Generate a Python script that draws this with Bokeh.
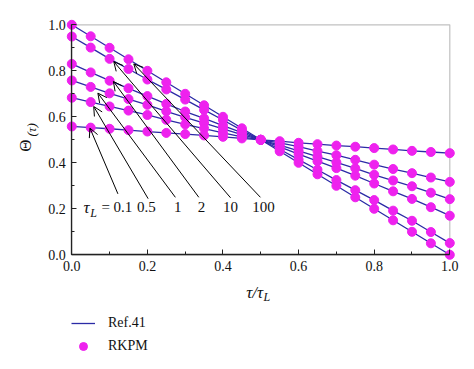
import numpy as np
from bokeh.plotting import figure
from bokeh.models import (Range1d, SingleIntervalTicker, PrintfTickFormatter, Label, LinearAxis,
                          Arrow, OpenHead, ColumnDataSource, Legend, LegendItem, BoxAnnotation)
from bokeh.embed import file_html
from bokeh.resources import INLINE

# ---- data -------------------------------------------------------------
x_vals = [0.0, 0.05, 0.1, 0.15, 0.2, 0.25, 0.3, 0.35, 0.4, 0.45, 0.5,
          0.55, 0.6, 0.65, 0.7, 0.75, 0.8, 0.85, 0.9, 0.95, 1.0]

tauL_labels = ["100", "10", "2", "1", "0.5", "0.1"]

theta_100 = [1.000, 0.950, 0.900, 0.850, 0.800, 0.750, 0.700, 0.650, 0.600, 0.550, 0.500,
             0.450, 0.400, 0.350, 0.300, 0.250, 0.200, 0.150, 0.100, 0.050, 0.000]
theta_10 = [0.949, 0.901, 0.852, 0.808, 0.762, 0.719, 0.675, 0.630, 0.586, 0.541, 0.500,
            0.459, 0.414, 0.370, 0.325, 0.281, 0.238, 0.192, 0.148, 0.099, 0.051]
theta_2 = [0.830, 0.793, 0.757, 0.724, 0.690, 0.656, 0.623, 0.593, 0.562, 0.531, 0.500,
           0.469, 0.438, 0.407, 0.377, 0.344, 0.310, 0.276, 0.243, 0.207, 0.170]
theta_1 = [0.758, 0.730, 0.702, 0.677, 0.652, 0.624, 0.598, 0.573, 0.548, 0.523, 0.500,
           0.477, 0.452, 0.427, 0.402, 0.376, 0.348, 0.323, 0.298, 0.270, 0.242]
theta_05 = [0.683, 0.664, 0.645, 0.627, 0.608, 0.587, 0.567, 0.549, 0.530, 0.513, 0.500,
            0.487, 0.470, 0.451, 0.433, 0.413, 0.392, 0.373, 0.355, 0.336, 0.317]
theta_01 = [0.558, 0.553, 0.548, 0.542, 0.536, 0.530, 0.525, 0.519, 0.513, 0.506, 0.500,
            0.494, 0.487, 0.481, 0.475, 0.470, 0.464, 0.458, 0.452, 0.447, 0.442]

series = [theta_100, theta_10, theta_2, theta_1, theta_05, theta_01]

# annotation arrows (label end -> curve)
arrow_x0 = [0.499, 0.420, 0.336, 0.274, 0.202, 0.122]
arrow_y0 = [0.250, 0.248, 0.250, 0.250, 0.244, 0.265]
arrow_x1 = [0.164, 0.111, 0.110, 0.069, 0.058, 0.048]
arrow_y1 = [0.830, 0.840, 0.754, 0.703, 0.645, 0.551]
label_x = [0.507, 0.420, 0.343, 0.280, 0.197, 0.135]
label_y = [0.206] * 6

LINE = "#2b2ba6"
MARK = "#ee22ee"
FONT = "'Liberation Serif', serif"
TXT = "#111111"

# frame covers the whole canvas; axes are pinned at data 0
p = figure(frame_width=466, frame_height=361, min_border=0,
           x_range=Range1d(-0.1886, 1.0442), y_range=Range1d(-0.4639, 1.1057),
           x_axis_location=None, y_axis_location=None,
           output_backend="svg", toolbar_location=None)

p.xgrid.visible = False
p.ygrid.visible = False
p.outline_line_color = None
p.background_fill_color = "white"
p.border_fill_color = "white"

xaxis = LinearAxis(fixed_location=0, bounds=(0, 1))
yaxis = LinearAxis(fixed_location=0, bounds=(0, 1))
p.add_layout(xaxis, "below")
p.add_layout(yaxis, "left")

for ax in (xaxis, yaxis):
    ax.ticker = SingleIntervalTicker(interval=0.2, num_minor_ticks=2)
    ax.formatter = PrintfTickFormatter(format="%.1f")
    ax.major_tick_in = 5
    ax.major_tick_out = 0
    ax.minor_tick_in = 3
    ax.minor_tick_out = 0
    ax.axis_line_width = 1.3
    ax.axis_line_color = "#222222"
    ax.major_tick_line_color = "#222222"
    ax.minor_tick_line_color = "#222222"
    ax.major_label_text_font = FONT
    ax.major_label_text_font_size = "14px"
    ax.major_label_text_color = TXT
    ax.major_label_standoff = 6

p.add_layout(BoxAnnotation(left=0, right=1, bottom=0, top=1, fill_alpha=0,
                           line_color="#333333", line_width=1.2, level="underlay"))

line_renderers = []
mark_renderers = []
for ys in series:
    src = ColumnDataSource(dict(x=x_vals, y=ys))
    lr = p.line("x", "y", source=src, line_color=LINE, line_width=1.3)
    line_renderers.append(lr)
for ys in series:
    src = ColumnDataSource(dict(x=x_vals, y=ys))
    mr = p.scatter("x", "y", source=src, size=9, fill_color=MARK, line_color=MARK)
    mark_renderers.append(mr)

# arrows
asrc = ColumnDataSource(dict(x0=arrow_x0, y0=arrow_y0, x1=arrow_x1, y1=arrow_y1))
p.add_layout(Arrow(end=OpenHead(size=9, line_width=1, line_color="black"),
                   x_start="x0", y_start="y0", x_end="x1", y_end="y1",
                   source=asrc, line_width=1, line_color="black"))

# tau_L labels
for lx, ly, t in zip(label_x, label_y, tauL_labels):
    p.add_layout(Label(x=lx, y=ly, text=t, text_font=FONT, text_font_size="15px",
                       text_align="center", text_baseline="middle", text_color=TXT))
p.add_layout(Label(x=0.047, y=0.206, text="τ", text_font=FONT, text_font_size="17px",
                   text_font_style="italic", text_align="right", text_baseline="middle",
                   text_color=TXT))
p.add_layout(Label(x=0.049, y=0.180, text="L", text_font=FONT, text_font_size="12px",
                   text_font_style="italic", text_align="left", text_baseline="middle",
                   text_color=TXT))
p.add_layout(Label(x=0.090, y=0.206, text="=", text_font=FONT, text_font_size="15px",
                   text_align="center", text_baseline="middle", text_color=TXT))

# axis titles
p.add_layout(Label(x=0.506, y=-0.163, text="τ/τ", text_font=FONT, text_font_size="17px",
                   text_font_style="italic", text_align="right", text_baseline="middle",
                   text_color=TXT))
p.add_layout(Label(x=0.507, y=-0.185, text="L", text_font=FONT, text_font_size="12px",
                   text_font_style="italic", text_align="left", text_baseline="middle",
                   text_color=TXT))
p.add_layout(Label(x=-0.122, y=0.475, text="Θ", text_font=FONT, text_font_size="17px",
                   angle=np.pi / 2, text_align="center", text_baseline="middle",
                   text_color=TXT))
p.add_layout(Label(x=-0.106, y=0.543, text="(τ)", text_font=FONT, text_font_size="13px",
                   text_font_style="italic", angle=np.pi / 2, text_align="center",
                   text_baseline="middle", text_color=TXT))

legend = Legend(items=[LegendItem(label="Ref.41", renderers=[line_renderers[0]]),
                       LegendItem(label="RKPM", renderers=[mark_renderers[0]])],
                location=(71, 5), margin=0, padding=0, spacing=3,
                glyph_width=24, glyph_height=20, label_standoff=13,
                label_text_font=FONT, label_text_font_size="14px", label_text_color=TXT,
                border_line_color=None, background_fill_alpha=0)
p.add_layout(legend, "center")

open("out.html", "w").write(file_html(p, INLINE))
